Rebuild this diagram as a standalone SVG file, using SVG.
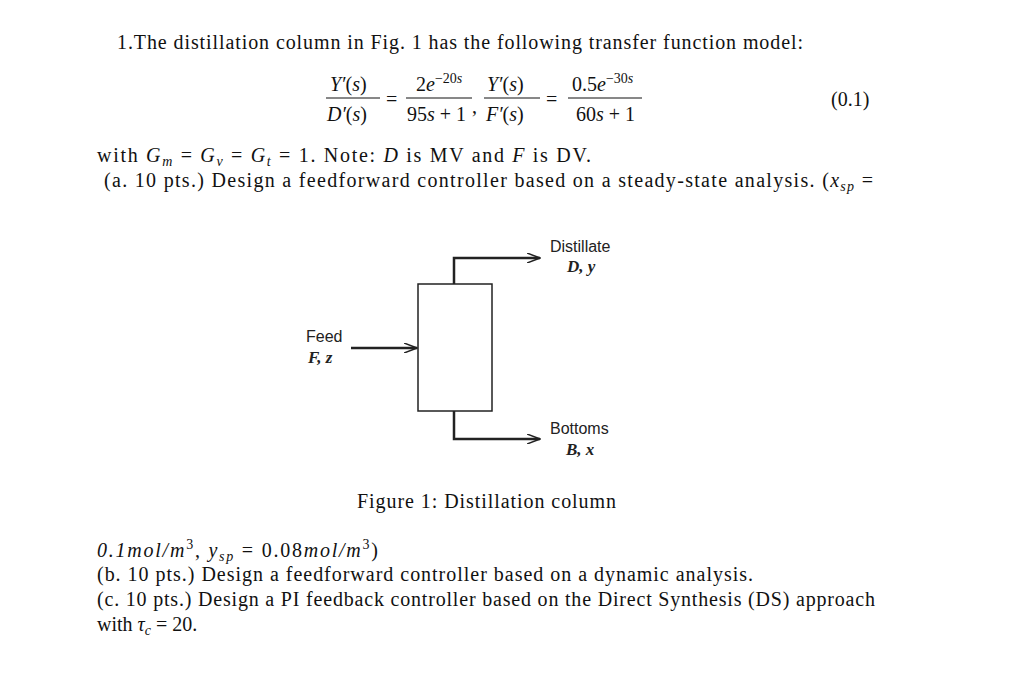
<svg xmlns="http://www.w3.org/2000/svg" width="1024" height="685" viewBox="0 0 1024 685">
<style>
.t{font-family:"Liberation Serif",serif;font-size:20px;fill:#111}
.i{font-style:italic}
.s{font-family:"Liberation Sans",sans-serif;font-size:16px;fill:#222}
.b{font-family:"Liberation Serif",serif;font-size:17px;font-weight:bold;font-style:italic;fill:#222}
.ln{stroke:#222;stroke-width:2.5;fill:none}
</style>
<defs><marker id="a" markerWidth="14" markerHeight="10" refX="13" refY="5" orient="auto" markerUnits="userSpaceOnUse"><path d="M0,0 L13,5 L0,10" fill="none" stroke="#222" stroke-width="1.5"/></marker></defs>
<rect width="1024" height="685" fill="#fff"/>
<text class="t" x="117" y="49" textLength="686" lengthAdjust="spacing">1.The distillation column in Fig. 1 has the following transfer function model:</text>
<g id="eq">
<text class="t" x="330" y="91"><tspan class="i">Y′</tspan>(<tspan class="i">s</tspan>)</text>
<line x1="326" y1="98" x2="380" y2="98" stroke="#111" stroke-width="1"/>
<text class="t" x="327" y="121"><tspan class="i">D′</tspan>(<tspan class="i">s</tspan>)</text>
<text class="t" x="386" y="106">=</text>
<text class="t" x="416" y="91">2<tspan class="i">e</tspan><tspan font-size="14" dy="-8">−20<tspan class="i">s</tspan></tspan></text>
<line x1="406" y1="98" x2="472" y2="98" stroke="#111" stroke-width="1"/>
<text class="t" x="407" y="121">95<tspan class="i">s</tspan> + 1</text>
<text class="t" x="472" y="113">,</text>
<text class="t" x="487" y="91"><tspan class="i">Y′</tspan>(<tspan class="i">s</tspan>)</text>
<line x1="484" y1="98" x2="540" y2="98" stroke="#111" stroke-width="1"/>
<text class="t" x="486" y="121"><tspan class="i">F′</tspan>(<tspan class="i">s</tspan>)</text>
<text class="t" x="546" y="106">=</text>
<text class="t" x="572" y="91">0.5<tspan class="i">e</tspan><tspan font-size="14" dy="-8">−30<tspan class="i">s</tspan></tspan></text>
<line x1="568" y1="98" x2="642" y2="98" stroke="#111" stroke-width="1"/>
<text class="t" x="576" y="121">60<tspan class="i">s</tspan> + 1</text>
<text class="t" x="831" y="106">(0.1)</text>
</g>
<text class="t" x="97" y="162" textLength="494" lengthAdjust="spacing">with <tspan class="i">G<tspan font-size="14" dy="4">m</tspan></tspan><tspan dy="-4"> = </tspan><tspan class="i">G<tspan font-size="14" dy="4">v</tspan></tspan><tspan dy="-4"> = </tspan><tspan class="i">G<tspan font-size="14" dy="4">t</tspan></tspan><tspan dy="-4"> = 1. Note: </tspan><tspan class="i">D</tspan> is MV and <tspan class="i">F</tspan> is DV.</text>
<text class="t" x="104" y="187" textLength="769" lengthAdjust="spacing">(a. 10 pts.) Design a feedforward controller based on a steady-state analysis. (<tspan class="i">x<tspan font-size="14" dy="4">sp</tspan></tspan><tspan dy="-4"> =</tspan></text>
<g id="column"><rect x="418" y="284" width="74" height="127" fill="#fff" stroke="#222" stroke-width="1.5"/></g>
<g id="connectors">
<path class="ln" d="M454,284 V258 H540" marker-end="url(#a)"/>
<path class="ln" d="M454,411 V439 H540" marker-end="url(#a)"/>
<path class="ln" d="M351,348 H417" marker-end="url(#a)"/>
</g>
<g id="distillate"><text class="s" x="550" y="252">Distillate</text><text class="b" x="567" y="272">D, y</text></g>
<g id="feed"><text class="s" x="306" y="342">Feed</text><text class="b" x="308" y="363">F, z</text></g>
<g id="bottoms"><text class="s" x="550" y="434">Bottoms</text><text class="b" x="566" y="455">B, x</text></g>
<text class="t" x="357" y="508" textLength="259" lengthAdjust="spacing">Figure 1: Distillation column</text>
<text class="t" x="97" y="557" textLength="281" lengthAdjust="spacing"><tspan class="i">0.1mol/m</tspan><tspan font-size="14" dy="-8">3</tspan><tspan dy="8">, </tspan><tspan class="i">y<tspan font-size="14" dy="4">sp</tspan></tspan><tspan dy="-4"> = 0.08</tspan><tspan class="i">mol/m</tspan><tspan font-size="14" dy="-8">3</tspan><tspan dy="8">)</tspan></text>
<text class="t" x="97" y="581" textLength="656" lengthAdjust="spacing">(b. 10 pts.) Design a feedforward controller based on a dynamic analysis.</text>
<text class="t" x="97" y="606" textLength="778" lengthAdjust="spacing">(c. 10 pts.) Design a PI feedback controller based on the Direct Synthesis (DS) approach</text>
<text class="t" x="97" y="631">with <tspan class="i">τ<tspan font-size="14" dy="4">c</tspan></tspan><tspan dy="-4"> = 20.</tspan></text>
</svg>
